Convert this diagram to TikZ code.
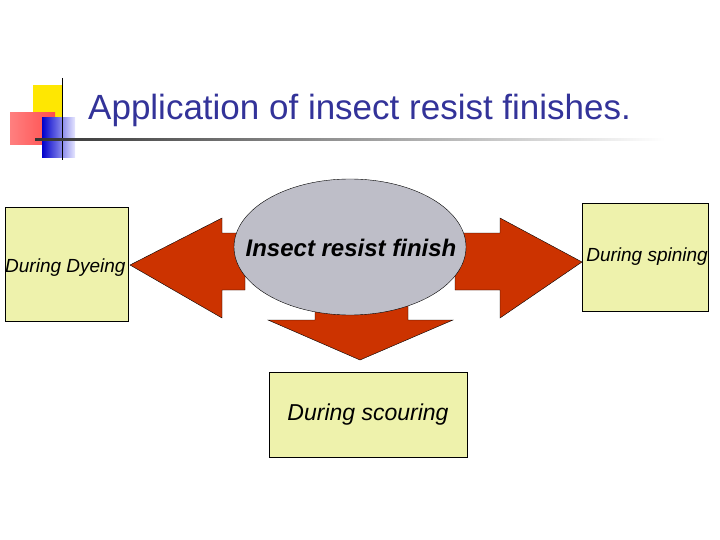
\documentclass[tikz,border=0pt]{standalone}
\usepackage{fontspec}
\setmainfont{Liberation Sans}
\usetikzlibrary{shapes.geometric, positioning, backgrounds}
\definecolor{boxfill}{RGB}{238,242,172}
\definecolor{arrowred}{RGB}{204,51,0}
\definecolor{ovalgrey}{RGB}{190,190,200}
\definecolor{titleblue}{RGB}{51,51,153}
\tikzstyle{stage} = [rectangle, draw=black, fill=boxfill, text centered, font=\itshape\fontsize{19}{22}\selectfont]
\tikzstyle{bigarrow} = [draw=black, thin, fill=arrowred]
\begin{document}
\begin{tikzpicture}[x=1pt, y=-1pt]
    \useasboundingbox (0,0) rectangle (720,540);

    % Logo
    \fill[yellow!90!orange] (33,85) rectangle (62,117);
    \shade[left color=red!50!white, right color=red!70] (10,113) rectangle (55,145);
    \shade[left color=blue!80!black, right color=blue!10] (42,118) rectangle (75,158);
    \draw[thick] (62,78) -- (62,160);
    \shade[left color=black!80, right color=white] (35,139) rectangle (665,141);

    % Title
    \node[anchor=base west, text=titleblue, font=\fontsize{35}{40}\selectfont, inner sep=0pt] (title) at (88,120) {Application of insect resist finishes.};

    % Arrows
    \draw[bigarrow] (245,233) -- (222,233) -- (222,218) -- (130,265) -- (222,318) -- (222,290) -- (245,290) -- cycle;
    \draw[bigarrow] (455,233) -- (500,233) -- (500,218) -- (582,262) -- (500,318) -- (500,290) -- (455,290) -- cycle;
    \draw[bigarrow] (315,300) -- (315,320) -- (268,320) -- (360,360) -- (453,320) -- (408,320) -- (408,300) -- cycle;

    % Centre
    \node[ellipse, draw=black, fill=ovalgrey, minimum width=232pt, minimum height=136pt, inner sep=0pt] (finish) at (350,247) {};
    \node[font=\bfseries\itshape\fontsize{24}{28}\selectfont, inner sep=0pt, anchor=base] (finishtext) at (351,256) {Insect resist finish};

    % Stages
    \node[stage, minimum width=123pt, minimum height=114pt, inner sep=0pt] (dyeing) at (66.5,264) {};
    \node[anchor=base west, font=\itshape\fontsize{19}{22}\selectfont, inner sep=0pt] (dyeingtext) at (5,272) {During Dyeing};
    \node[stage, minimum width=126pt, minimum height=108pt, inner sep=0pt] (spining) at (645,257) {};
    \node[anchor=base east, font=\itshape\fontsize{19}{22}\selectfont, inner sep=0pt] (spiningtext) at (708,261) {During spining};
    \node[stage, minimum width=198pt, minimum height=85pt, font=\itshape\fontsize{23}{26}\selectfont] (scouring) at (368,414.5) {During scouring};
\end{tikzpicture}
\end{document}
